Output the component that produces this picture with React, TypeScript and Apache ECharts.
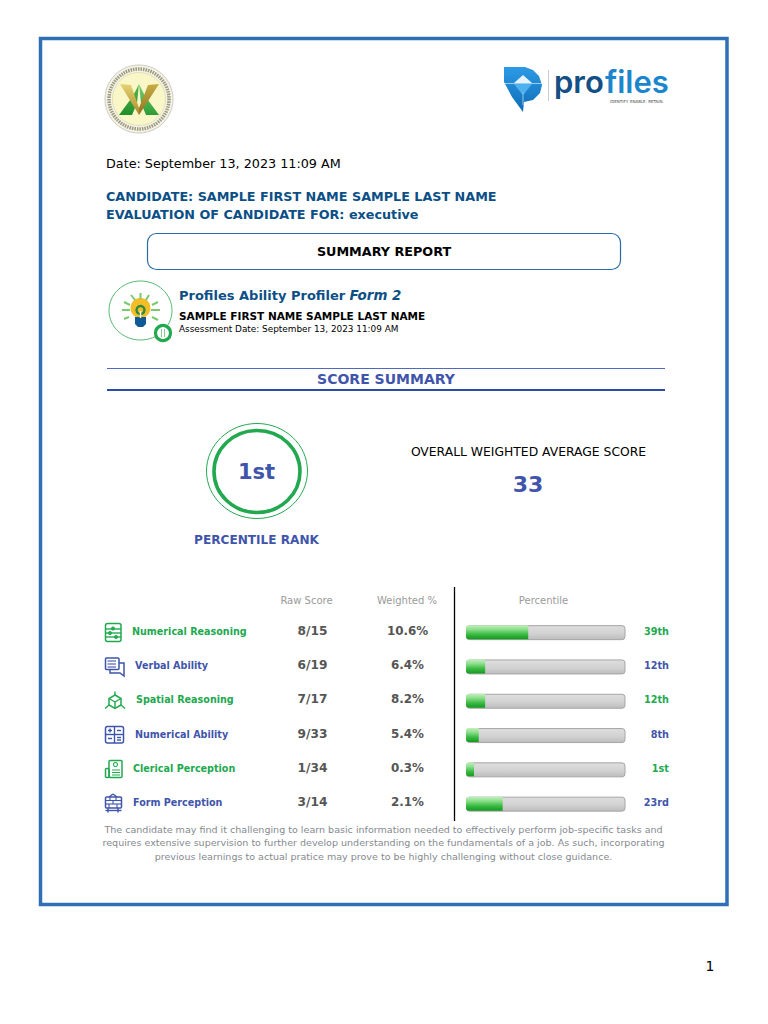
import React, { useEffect, useRef } from "react";
import * as echarts from "echarts";

const categories = ["Numerical Reasoning", "Verbal Ability", "Spatial Reasoning", "Numerical Ability", "Clerical Perception", "Form Perception"];
const rawScores = ["8/15", "6/19", "7/17", "9/33", "1/34", "3/14"];
const weighted = ["10.6%", "6.4%", "8.2%", "5.4%", "0.3%", "2.1%"];
const percentiles = [39, 12, 12, 8, 1, 23];
const percentileLabels = ["39th", "12th", "12th", "8th", "1st", "23rd"];
const full = [100, 100, 100, 100, 100, 100];
const note = [
  "The candidate may find it challenging to learn basic information needed to effectively perform job-specific tasks and",
  "requires extensive supervision to further develop understanding on the fundamentals of a job. As such, incorporating",
  "previous learnings to actual pratice may prove to be highly challenging without close guidance.",
];

const FONT = "DejaVu Sans";
const GREEN = "#22a94f";
const INDIGO = "#3f55ab";
const NAVY = "#0b4f86";
const rowY = [631, 665, 699, 734, 768, 802];
const nameX = [132, 135, 136, 135, 133, 133];

const t = (x: number, y: number, text: string, size: number, fill: string, weight = "normal", align = "left", style = "normal") => ({
  type: "text", x, y,
  style: { text, fill, font: `${style} ${weight} ${size}px "${FONT}"`, textAlign: align, textVerticalAlign: "middle" },
});
const ln = (x1: number, y1: number, x2: number, y2: number, stroke: string, lineWidth = 1.4) => ({
  type: "line", shape: { x1, y1, x2, y2 }, style: { stroke, lineWidth },
});
const box = (x: number, y: number, width: number, height: number, stroke: string, r = 1, lineWidth = 1.5) => ({
  type: "rect", shape: { x, y, width, height, r }, style: { stroke, fill: "none", lineWidth },
});
const ring = (cx: number, cy: number, r: number, stroke: string, lineWidth: number, fill = "none", lineDash?: number[]) => ({
  type: "circle", shape: { cx, cy, r }, style: { stroke, lineWidth, fill, lineDash },
});
const oval = (cx: number, cy: number, rx: number, ry: number, stroke: string, lineWidth: number, fill = "none") => ({
  type: "ellipse", shape: { cx, cy, rx, ry }, style: { stroke, lineWidth, fill },
});
const poly = (points: number[][], fill: any) => ({ type: "polygon", shape: { points }, style: { fill } });

function icons() {
  const out: any[] = [];
  // abacus
  out.push(box(105.5, 623.5, 15.5, 18, GREEN, 2));
  [629, 633, 637].forEach((y) => out.push(ln(105, y, 121, y, GREEN)));
  out.push(ring(113, 628.5, 1.2, GREEN, 1.6), ring(110, 633, 1.2, GREEN, 1.6), ring(116, 637, 1.2, GREEN, 1.6));
  // speech bubbles
  out.push(box(105.5, 658, 13.5, 11.5, INDIGO));
  out.push({ type: "polyline", shape: { points: [[119, 663], [124, 663], [124, 676], [120, 673], [110, 673], [110, 669.5]] }, style: { stroke: INDIGO, fill: "none", lineWidth: 1.5 } });
  [661, 664, 667].forEach((y) => out.push(ln(107.5, y, 116, y, INDIGO, 1.1)));
  // cube
  out.push({ type: "polygon", shape: { points: [[115, 695], [121, 698.5], [121, 705], [115, 708.5], [109, 705], [109, 698.5]] }, style: { stroke: GREEN, fill: "none", lineWidth: 1.5 } });
  out.push(ln(115, 691.5, 115, 695, GREEN), ln(109, 698.5, 115, 702, GREEN), ln(121, 698.5, 115, 702, GREEN), ln(115, 702, 115, 708.5, GREEN), ln(105, 708.5, 109, 705, GREEN), ln(125, 708.5, 121, 705, GREEN));
  // calculator
  out.push(box(105.5, 726.5, 18, 16.5, INDIGO, 2));
  out.push(ln(114.5, 726.5, 114.5, 743, INDIGO), ln(105.5, 734.5, 123.5, 734.5, INDIGO));
  out.push(ln(108, 730.5, 112, 730.5, INDIGO), ln(110, 728.5, 110, 732.5, INDIGO), ln(117, 730.5, 121, 730.5, INDIGO), ln(108, 738.5, 112, 738.5, INDIGO), ln(117, 737.5, 121, 737.5, INDIGO), ln(117, 740, 121, 740, INDIGO));
  // report
  out.push(box(109, 760.5, 13, 17, GREEN), box(105.5, 768.5, 3.5, 9, GREEN));
  out.push(ring(115.5, 764.5, 2, GREEN, 1.1), ln(112, 770, 120, 770, GREEN, 1), ln(112, 772.5, 120, 772.5, GREEN, 1), ln(112, 775, 120, 775, GREEN, 1));
  // board with a brick pattern
  out.push(box(105.5, 797, 16, 11, INDIGO));
  out.push(ln(105.5, 800.5, 121.5, 800.5, INDIGO, 1.1), ln(105.5, 804, 121.5, 804, INDIGO, 1.1), ln(110, 797, 110, 800.5, INDIGO, 1.1), ln(116, 797, 116, 800.5, INDIGO, 1.1), ln(113, 800.5, 113, 804, INDIGO, 1.1), ln(109, 804, 109, 808, INDIGO, 1.1), ln(117, 804, 117, 808, INDIGO, 1.1));
  out.push(ln(109, 797, 113, 794, INDIGO), ln(117, 797, 113, 794, INDIGO), ln(108, 808, 108, 812.5, INDIGO), ln(118, 808, 118, 812.5, INDIGO), ln(105.5, 810.5, 121.5, 810.5, INDIGO));
  return out;
}

function logos() {
  const vert = (stops: [number, string][]) => new echarts.graphic.LinearGradient(0, 0, 0, 1, stops.map(([offset, color]) => ({ offset, color })));
  return [
    // seal
    ring(139, 99, 34, "#cfccbf", 1, "#f4f3ea"),
    ring(139, 99, 30, "#9c9878", 3.5, "none", [1.5, 1]),
    ring(139, 99, 26.5, "#dcd9b0", 0.8, "#f9f7c8"),
    poly([[119, 115], [132, 115], [137, 103], [139, 84], [133, 96]], vert([[0, "#56b94a"], [1, "#1f8f2c"]])),
    poly([[159, 115], [146, 115], [141, 103], [139, 84], [145, 96]], vert([[0, "#7fce74"], [1, "#2a9c35"]])),
    poly([[120, 84], [131, 85], [139, 108], [139, 115]], vert([[0, "#e6d374"], [1, "#a98c2c"]])),
    poly([[159, 84], [148, 85], [139, 108], [139, 115]], vert([[0, "#c8ac45"], [1, "#8f7420"]])),
    // profiles mark
    poly([[504, 67], [525, 67], [533, 70], [539, 76], [542, 85], [540, 93], [533, 100], [524, 102], [523, 112], [512, 97], [504, 82]], vert([[0, "#2d9ae6"], [1, "#0f6cb5"]])),
    poly([[523, 75], [532, 83], [514, 83]], "#e6f4fd"),
    poly([[514, 84], [532, 84], [524, 94], [522, 94]], "#4fb0ee"),
    ln(504, 83.5, 542, 83.5, "#cfe8fa", 0.7),
    ln(523, 93, 523, 105, "#cfe8fa", 0.7),
    ln(548.5, 70, 548.5, 101, "#c9cdd2", 1),
    { type: "text", x: 554, y: 81.5, style: { text: "pro", fill: "#134f84", font: `normal 600 31px "Inter"`, textAlign: "left", textVerticalAlign: "middle" } },
    { type: "text", x: 605, y: 81.5, style: { text: "files", fill: "#1c86cc", font: `normal 600 31px "Inter"`, textAlign: "left", textVerticalAlign: "middle" } },
    t(610, 101.5, "IDENTIFY. ENABLE. RETAIN.", 4, "#444444"),
    // bulb badge
    oval(140.5, 310.5, 31.5, 29.5, "#55b96f", 1, "#fff"),
    ring(140.5, 308, 10, "#f4bd25", 0, "#f4bd25"),
    poly([[135, 317], [146, 317], [146, 324], [143, 327], [138, 327], [135, 324]], "#0e5a96"),
    ring(140.5, 310, 4, "#2c8a43", 2.4),
    ln(140.5, 311, 140.5, 318, "#fdf6d8", 1.5),
    ...[[122, 310, 130, 310], [151, 310, 160, 310], [124, 302, 130, 305], [158, 302, 152, 305], [131, 295, 135, 300], [149, 295, 146, 300], [140.5, 293, 140.5, 299], [124, 319, 129, 317], [158, 320, 152, 317]].map((s) => ln(s[0], s[1], s[2], s[3], "#7bc96f", 2)),
    ring(163, 333, 7.5, GREEN, 3.2, "#fff"),
    ln(161.5, 329, 161.5, 337, "#7fcf95", 1), ln(164.5, 329, 164.5, 337, "#7fcf95", 1),
  ];
}

function buildGraphic() {
  return [
    box(40.5, 38.5, 686.5, 866, "#2f6fb5", 0, 3.5),
    ...logos(),
    t(106, 163.5, "Date: September 13, 2023 11:09 AM", 12.75, "#000000"),
    t(106, 196.5, "CANDIDATE: SAMPLE FIRST NAME SAMPLE LAST NAME", 12.75, NAVY, "bold"),
    t(106, 214.5, "EVALUATION OF CANDIDATE FOR: executive", 12.75, NAVY, "bold"),
    box(147.5, 233.5, 473, 36, "#2a6ca8", 9, 1.2),
    t(384, 251.5, "SUMMARY REPORT", 12.75, "#000000", "bold", "center"),
    t(179, 295, "Profiles Ability Profiler", 13, NAVY, "bold"),
    t(349.5, 295, "Form 2", 13.4, NAVY, "bold", "left", "italic"),
    t(179, 315.5, "SAMPLE FIRST NAME SAMPLE LAST NAME", 10.5, "#000000", "bold"),
    t(179, 328.5, "Assessment Date: September 13, 2023 11:09 AM", 8.9, "#000000"),
    ln(107, 368.5, 665, 368.5, "#5068c0", 1.2),
    ln(107, 390, 665, 390, "#2d4ba8", 2),
    t(386, 378.5, "SCORE SUMMARY", 14, INDIGO, "bold", "center"),
    oval(257, 471, 50.5, 47.5, GREEN, 1),
    oval(257, 471.5, 43, 41, GREEN, 3.6),
    t(256.5, 471.5, "1st", 21, INDIGO, "bold", "center"),
    t(256.5, 539.5, "PERCENTILE RANK", 12.1, INDIGO, "bold", "center"),
    t(528.5, 451.5, "OVERALL WEIGHTED AVERAGE SCORE", 12.35, "#000000", "normal", "center"),
    t(528, 484.5, "33", 22, INDIGO, "bold", "center"),
    t(306.5, 600.5, "Raw Score", 10, "#9a9a9a", "normal", "center"),
    t(407, 600.5, "Weighted %", 10, "#9a9a9a", "normal", "center"),
    t(543.5, 600.5, "Percentile", 10, "#9a9a9a", "normal", "center"),
    ln(454.5, 587, 454.5, 821, "#000000", 1.3),
    ...icons(),
    ...categories.map((c, i) => t(nameX[i], rowY[i], c, 9.6, i % 2 ? INDIGO : GREEN, "bold")),
    ...rawScores.map((c, i) => t(312.5, rowY[i], c, 12.2, "#555555", "bold", "center")),
    ...weighted.map((c, i) => t(407.5, rowY[i], c, 11.9, "#555555", "bold", "center")),
    ...percentileLabels.map((c, i) => t(669, rowY[i], c, 9.7, i % 2 ? INDIGO : GREEN, "bold", "right")),
    ...note.map((c, i) => t(383.5, 829 + i * 13.5, c, 9.55, "#858a8f", "normal", "center")),
    t(710, 966, "1", 14, "#000000", "normal", "center"),
  ];
}

export default function App() {
  const ref = useRef<HTMLDivElement>(null);
  useEffect(() => {
    document.body.style.margin = "0";
    const chart = echarts.init(ref.current!, undefined, { renderer: "svg" });
    const vert = (stops: [number, string][]) => new echarts.graphic.LinearGradient(0, 0, 0, 1, stops.map(([offset, color]) => ({ offset, color })));
    chart.setOption({
      animation: false,
      backgroundColor: "#ffffff",
      grid: { left: 466, width: 159.5, top: 615, height: 205.8 },
      xAxis: { type: "value", min: 0, max: 100, show: false },
      yAxis: { type: "category", inverse: true, data: categories, show: false },
      series: [
        {
          type: "bar", data: full, barWidth: 15, silent: true,
          itemStyle: {
            color: vert([[0, "#dedede"], [0.55, "#d2d2d2"], [1, "#bdbdbd"]]),
            borderColor: "#a6a6a6", borderWidth: 1, borderRadius: 3,
          },
        },
        {
          type: "bar", data: percentiles, barWidth: 14, barGap: "-100%", barMinHeight: 8, silent: true,
          itemStyle: {
            color: vert([[0, "#c4efc0"], [0.3, "#8ddf8c"], [0.65, "#3dbb45"], [1, "#129a1e"]]),
            borderRadius: [3, 0, 0, 3],
          },
        },
      ],
      graphic: { elements: buildGraphic() },
    });
    return () => chart.dispose();
  }, []);
  return <div ref={ref} style={{ width: 768, height: 1024 }} />;
}
